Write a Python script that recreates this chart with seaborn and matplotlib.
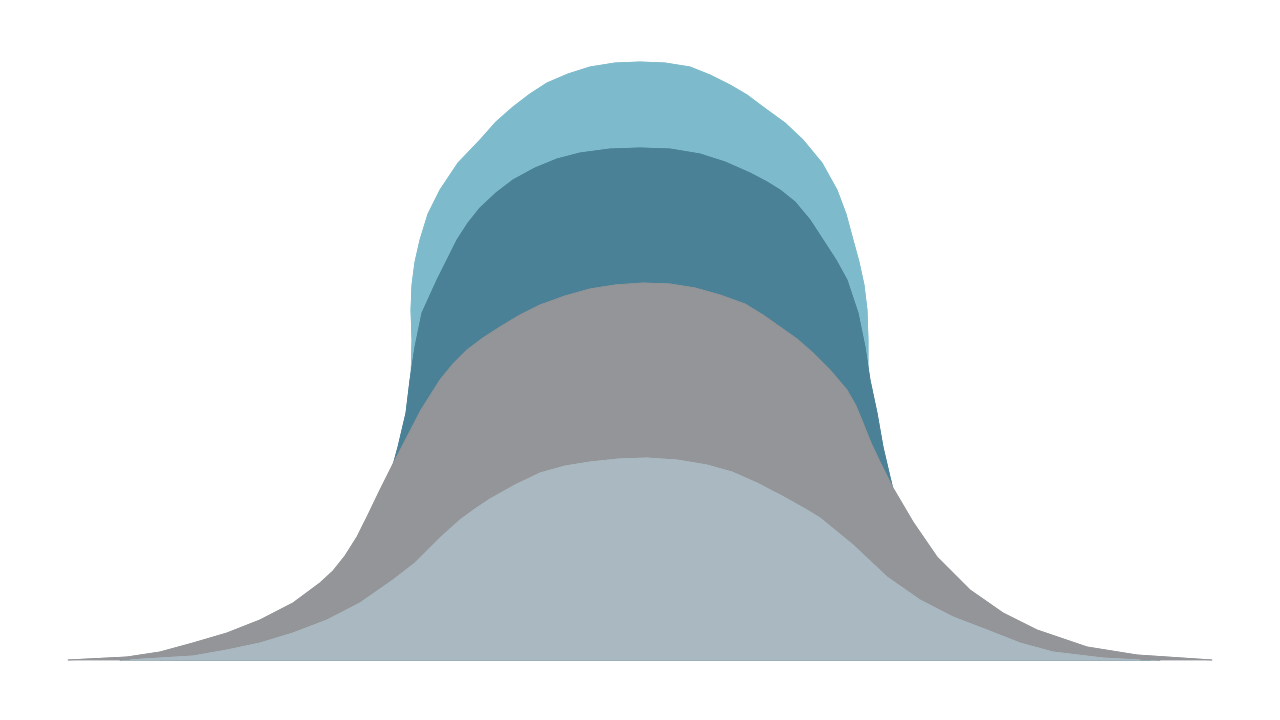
import seaborn as sns
import matplotlib
matplotlib.use("Agg")
import matplotlib.pyplot as plt

# layers, back to front: x position and height above the baseline
sky_x = [160, 250, 320, 365, 395, 407, 411, 412, 411, 412, 415, 420, 428, 440, 458, 480, 496,
         513, 530, 547, 568, 590, 615, 640, 665, 690, 710, 730, 747, 763, 785, 803, 822, 837,
         846, 853, 859, 864, 867, 868, 868, 867, 872, 880, 895, 915, 955, 1020, 1100, 1150]
sky_h = [0, 20, 60, 120, 190, 240, 280, 320, 350, 375, 398, 420, 446, 470, 497, 520, 538,
         553, 566, 577, 586, 593, 597, 598, 597, 593, 585, 575, 565, 553, 537, 520, 497, 470,
         446, 420, 398, 375, 350, 320, 300, 260, 220, 180, 140, 100, 65, 30, 8, 0]

teal_x = [120, 215, 280, 335, 372, 389, 398, 406, 410, 415, 422, 437, 447, 457, 468, 480, 496,
          513, 535, 557, 580, 610, 640, 670, 700, 725, 750, 767, 780, 795, 810, 823, 836, 847,
          858, 865, 870, 877, 883, 890, 898, 920, 955, 1020, 1110, 1160]
teal_h = [0, 15, 38, 75, 128, 180, 213, 247, 280, 313, 347, 380, 400, 420, 437, 452, 467,
          480, 492, 501, 507, 511, 512, 511, 506, 498, 487, 478, 470, 458, 440, 420, 400, 380,
          347, 313, 280, 247, 213, 183, 150, 100, 65, 28, 4, 0]

grey_x = [68, 127, 160, 193, 227, 260, 293, 320, 333, 345, 357, 368, 380, 393, 407, 421, 440,
          453, 467, 483, 500, 520, 540, 565, 590, 615, 643, 670, 695, 720, 745, 763, 780, 797,
          813, 830, 847, 856, 863, 871, 880, 893, 913, 937, 970, 1003, 1037, 1087, 1137, 1212]
grey_h = [0, 3, 8, 17, 27, 40, 57, 77, 89, 104, 123, 145, 170, 196, 223, 250, 280,
          296, 310, 322, 333, 345, 355, 364, 371, 375, 377, 376, 372, 365, 356, 345, 333, 321,
          307, 290, 270, 254, 237, 217, 198, 172, 138, 103, 70, 47, 30, 13, 5, 0]

front_x = [130, 143, 193, 227, 260, 293, 327, 360, 393, 415, 440, 460, 475, 490, 515, 540, 565,
           590, 618, 647, 677, 707, 732, 757, 782, 807, 820, 853, 887, 920, 953, 987, 1020,
           1053, 1103, 1140]
front_h = [0, 1, 4, 10, 17, 27, 40, 57, 80, 97, 122, 140, 151, 161, 175, 187, 194,
           198, 201, 202, 200, 195, 188, 177, 164, 150, 142, 115, 83, 60, 43, 30, 17,
           8, 2, 0]

colors = ["#7dbbcc", "#4a8196", "#939598", "#aab9c1"]

sns.set_theme(style="white")
fig = plt.figure(figsize=(12.8, 7.2), dpi=100)
ax = fig.add_axes([0, 0, 1, 1])

layers = [(sky_x, sky_h), (teal_x, teal_h), (grey_x, grey_h), (front_x, front_h)]
for i, ((xs, hs), c) in enumerate(zip(layers, colors)):
    ax.fill(xs, hs, facecolor=c, edgecolor=c, lw=0.6, zorder=2 * i + 1)
    sns.lineplot(x=xs, y=hs, sort=False, estimator=None, color=c, lw=0.6,
                 zorder=2 * i + 2, ax=ax)

ax.set_xlim(0, 1280)
ax.set_ylim(-60, 660)
ax.set_axis_off()

fig.savefig("out.png", dpi=100, facecolor="white")
